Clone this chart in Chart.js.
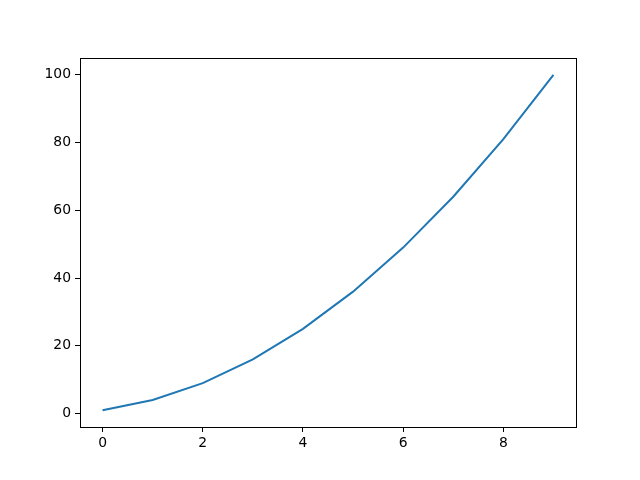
<!DOCTYPE html>
<html>
<head>
<meta charset="utf-8">
<script src="https://cdn.jsdelivr.net/npm/chart.js@4/dist/chart.umd.min.js"></script>
<style>
  html, body { margin: 0; padding: 0; background: #fff; }
  #wrap { width: 640px; height: 480px; position: relative; }
</style>
</head>
<body>
<div id="wrap"><canvas id="myChart"></canvas></div>
<script>
const xValues = [0, 1, 2, 3, 4, 5, 6, 7, 8, 9];
const yValues = [1, 4, 9, 16, 25, 36, 49, 64, 81, 100];
const xTicks = [0, 2, 4, 6, 8];
const yTicks = [0, 20, 40, 60, 80, 100];

const frame = {
    id: 'frame',
    afterDraw(chart) {
        const a = chart.chartArea;
        const ctx = chart.ctx;
        ctx.save();
        ctx.strokeStyle = '#000';
        ctx.lineWidth = 1;
        ctx.strokeRect(Math.round(a.left) + 0.5, Math.round(a.top) + 0.5,
            Math.round(a.right - a.left), Math.round(a.bottom - a.top));
        ctx.restore();
    }
};

const tickFont = { family: 'DejaVu Sans', size: 13.9 };

const data = {
    datasets: [{
        data: xValues.map((x, i) => ({ x: x, y: yValues[i] })),
        borderColor: '#1f77b4',
        borderWidth: 2,
        pointRadius: 0,
        tension: 0,
        fill: false
    }]
};

const config = {
    type: 'line',
    data: data,
    options: {
        responsive: true,
        maintainAspectRatio: false,
        devicePixelRatio: 1,
        animation: false,
        layout: { padding: { left: 0, right: 64, top: 58, bottom: 0 } },
        plugins: { legend: { display: false }, tooltip: { enabled: false } },
        scales: {
            x: {
                type: 'linear',
                min: -0.45,
                max: 9.45,
                afterBuildTicks: s => { s.ticks = xTicks.map(v => ({ value: v })); },
                afterFit: s => { s.height = 53; },
                grid: { drawOnChartArea: false, drawTicks: true, tickLength: 5, color: '#000' },
                border: { display: true, color: '#000' },
                ticks: { color: '#000', font: tickFont, padding: 3, maxRotation: 0 }
            },
            y: {
                type: 'linear',
                min: -3.95,
                max: 104.95,
                afterBuildTicks: s => { s.ticks = yTicks.map(v => ({ value: v })); },
                afterFit: s => { s.width = 80; },
                grid: { drawOnChartArea: false, drawTicks: true, tickLength: 5, color: '#000' },
                border: { display: true, color: '#000' },
                ticks: { color: '#000', font: tickFont, padding: 4 }
            }
        }
    },
    plugins: [frame]
};

const myChart = new Chart(document.getElementById('myChart'), config);
</script>
</body>
</html>
